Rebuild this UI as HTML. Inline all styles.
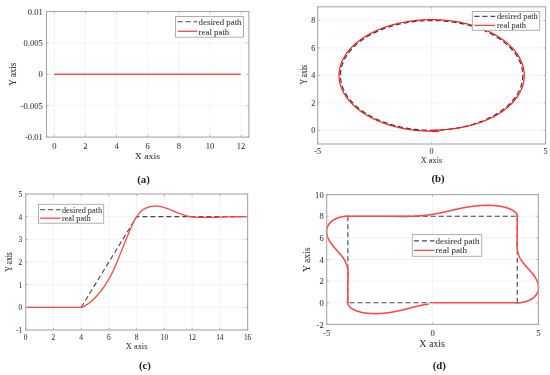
<!DOCTYPE html>
<html><head><meta charset="utf-8"><title>Path tracking results</title>
<style>html,body{margin:0;padding:0;background:#fff;}svg{display:block;}text{font-family:'Liberation Serif','Times New Roman',serif;}</style>
</head><body>
<svg width="550" height="375" viewBox="0 0 550 375">
<rect width="550" height="375" fill="#fff"/>
<line x1="54.28" y1="11.5" x2="54.28" y2="137.1" stroke="#f0f0f0" stroke-width="0.8"/>
<line x1="85.42" y1="11.5" x2="85.42" y2="137.1" stroke="#f0f0f0" stroke-width="0.8"/>
<line x1="116.56" y1="11.5" x2="116.56" y2="137.1" stroke="#f0f0f0" stroke-width="0.8"/>
<line x1="147.70" y1="11.5" x2="147.70" y2="137.1" stroke="#f0f0f0" stroke-width="0.8"/>
<line x1="178.84" y1="11.5" x2="178.84" y2="137.1" stroke="#f0f0f0" stroke-width="0.8"/>
<line x1="209.98" y1="11.5" x2="209.98" y2="137.1" stroke="#f0f0f0" stroke-width="0.8"/>
<line x1="241.12" y1="11.5" x2="241.12" y2="137.1" stroke="#f0f0f0" stroke-width="0.8"/>
<line x1="46.5" y1="105.70" x2="248.9" y2="105.70" stroke="#f0f0f0" stroke-width="0.8"/>
<line x1="46.5" y1="74.30" x2="248.9" y2="74.30" stroke="#f0f0f0" stroke-width="0.8"/>
<line x1="46.5" y1="42.90" x2="248.9" y2="42.90" stroke="#f0f0f0" stroke-width="0.8"/>
<path d="M54.28,74.30 L239.56,74.30" fill="none" stroke="#ff5058" stroke-width="1.5"/>
<path d="M239.56,74.30 L240.65,74.30" fill="none" stroke="#474747" stroke-width="1.0"/>
<rect x="46.5" y="11.5" width="202.40" height="125.60" fill="none" stroke="#a8a8a8" stroke-width="1.1"/>
<path d="M54.28,137.1 v-2.0 M54.28,11.5 v2.0" stroke="#a8a8a8" stroke-width="0.8"/>
<path d="M85.42,137.1 v-2.0 M85.42,11.5 v2.0" stroke="#a8a8a8" stroke-width="0.8"/>
<path d="M116.56,137.1 v-2.0 M116.56,11.5 v2.0" stroke="#a8a8a8" stroke-width="0.8"/>
<path d="M147.70,137.1 v-2.0 M147.70,11.5 v2.0" stroke="#a8a8a8" stroke-width="0.8"/>
<path d="M178.84,137.1 v-2.0 M178.84,11.5 v2.0" stroke="#a8a8a8" stroke-width="0.8"/>
<path d="M209.98,137.1 v-2.0 M209.98,11.5 v2.0" stroke="#a8a8a8" stroke-width="0.8"/>
<path d="M241.12,137.1 v-2.0 M241.12,11.5 v2.0" stroke="#a8a8a8" stroke-width="0.8"/>
<path d="M46.5,137.10 h2.0 M248.9,137.10 h-2.0" stroke="#a8a8a8" stroke-width="0.8"/>
<path d="M46.5,105.70 h2.0 M248.9,105.70 h-2.0" stroke="#a8a8a8" stroke-width="0.8"/>
<path d="M46.5,74.30 h2.0 M248.9,74.30 h-2.0" stroke="#a8a8a8" stroke-width="0.8"/>
<path d="M46.5,42.90 h2.0 M248.9,42.90 h-2.0" stroke="#a8a8a8" stroke-width="0.8"/>
<path d="M46.5,11.50 h2.0 M248.9,11.50 h-2.0" stroke="#a8a8a8" stroke-width="0.8"/>
<text transform="translate(54.28,148.6) scale(1.03,1)" font-size="8.3" text-anchor="middle" fill="#383838" stroke="#383838" stroke-width="0.06">0</text>
<text transform="translate(85.42,148.6) scale(1.03,1)" font-size="8.3" text-anchor="middle" fill="#383838" stroke="#383838" stroke-width="0.06">2</text>
<text transform="translate(116.56,148.6) scale(1.03,1)" font-size="8.3" text-anchor="middle" fill="#383838" stroke="#383838" stroke-width="0.06">4</text>
<text transform="translate(147.7,148.6) scale(1.03,1)" font-size="8.3" text-anchor="middle" fill="#383838" stroke="#383838" stroke-width="0.06">6</text>
<text transform="translate(178.84,148.6) scale(1.03,1)" font-size="8.3" text-anchor="middle" fill="#383838" stroke="#383838" stroke-width="0.06">8</text>
<text transform="translate(209.98,148.6) scale(1.03,1)" font-size="8.3" text-anchor="middle" fill="#383838" stroke="#383838" stroke-width="0.06">10</text>
<text transform="translate(241.12,148.6) scale(1.03,1)" font-size="8.3" text-anchor="middle" fill="#383838" stroke="#383838" stroke-width="0.06">12</text>
<text transform="translate(42.8,140.26) scale(1.03,1)" font-size="8.3" text-anchor="end" fill="#383838" stroke="#383838" stroke-width="0.06">-0.01</text>
<text transform="translate(42.8,108.86) scale(1.03,1)" font-size="8.3" text-anchor="end" fill="#383838" stroke="#383838" stroke-width="0.06">-0.005</text>
<text transform="translate(42.8,77.46) scale(1.03,1)" font-size="8.3" text-anchor="end" fill="#383838" stroke="#383838" stroke-width="0.06">0</text>
<text transform="translate(42.8,46.06) scale(1.03,1)" font-size="8.3" text-anchor="end" fill="#383838" stroke="#383838" stroke-width="0.06">0.005</text>
<text transform="translate(42.8,14.66) scale(1.03,1)" font-size="8.3" text-anchor="end" fill="#383838" stroke="#383838" stroke-width="0.06">0.01</text>
<text transform="translate(147.4,158.7) scale(1.07,1)" font-size="9.1" text-anchor="middle" fill="#383838" stroke="#383838" stroke-width="0.06">X axis</text>
<text transform="translate(16,74.3) rotate(-90) scale(1,1.22)" font-size="9.1" text-anchor="middle" fill="#383838" stroke="#383838" stroke-width="0.06">Y axis</text>
<rect x="175.5" y="16.5" width="68.00" height="20.70" fill="#fff" stroke="#a8a8a8" stroke-width="0.9"/>
<path d="M177.70,21.80 L197.30,21.80" fill="none" stroke="#474747" stroke-width="1.1" stroke-dasharray="5 3"/>
<path d="M177.70,31.30 L197.30,31.30" fill="none" stroke="#ff4646" stroke-width="1.3"/>
<text transform="translate(198.6,24.8) scale(1.12,1)" font-size="7.9" text-anchor="start" fill="#383838" stroke="#383838" stroke-width="0.06">desired path</text>
<text transform="translate(198.6,34.5) scale(1.12,1)" font-size="7.9" text-anchor="start" fill="#383838" stroke="#383838" stroke-width="0.06">real path</text>
<text transform="translate(143.5,183.2) scale(1,1)" font-size="10.8" text-anchor="middle" font-weight="bold" fill="#222" stroke="#222" stroke-width="0">(a)</text>
<line x1="431.65" y1="6.8" x2="431.65" y2="144.0" stroke="#f0f0f0" stroke-width="0.8"/>
<line x1="317.7" y1="130.28" x2="545.6" y2="130.28" stroke="#f0f0f0" stroke-width="0.8"/>
<line x1="317.7" y1="102.84" x2="545.6" y2="102.84" stroke="#f0f0f0" stroke-width="0.8"/>
<line x1="317.7" y1="75.40" x2="545.6" y2="75.40" stroke="#f0f0f0" stroke-width="0.8"/>
<line x1="317.7" y1="47.96" x2="545.6" y2="47.96" stroke="#f0f0f0" stroke-width="0.8"/>
<line x1="317.7" y1="20.52" x2="545.6" y2="20.52" stroke="#f0f0f0" stroke-width="0.8"/>
<path d="M431.65,130.28 L433.09,130.27 L434.52,130.25 L435.95,130.22 L437.39,130.17 L438.82,130.11 L440.25,130.04 L441.68,129.95 L443.10,129.85 L444.53,129.73 L445.95,129.60 L447.36,129.46 L448.77,129.30 L450.18,129.13 L451.58,128.95 L452.98,128.76 L454.38,128.55 L455.76,128.33 L457.14,128.09 L458.52,127.84 L459.89,127.58 L461.25,127.31 L462.60,127.02 L463.95,126.72 L465.29,126.41 L466.62,126.08 L467.94,125.74 L469.25,125.39 L470.55,125.03 L471.85,124.66 L473.13,124.27 L474.40,123.87 L475.67,123.46 L476.92,123.04 L478.16,122.60 L479.39,122.15 L480.61,121.69 L481.81,121.23 L483.00,120.74 L484.18,120.25 L485.35,119.75 L486.50,119.23 L487.64,118.71 L488.77,118.17 L489.88,117.63 L490.98,117.07 L492.06,116.50 L493.13,115.92 L494.18,115.33 L495.22,114.74 L496.24,114.13 L497.24,113.51 L498.23,112.89 L499.20,112.25 L500.16,111.61 L501.10,110.95 L502.02,110.29 L502.92,109.62 L503.81,108.94 L504.68,108.25 L505.53,107.55 L506.36,106.85 L507.17,106.14 L507.97,105.42 L508.74,104.69 L509.50,103.95 L510.24,103.21 L510.95,102.46 L511.65,101.71 L512.33,100.95 L512.99,100.18 L513.63,99.41 L514.24,98.63 L514.84,97.84 L515.42,97.05 L515.97,96.25 L516.51,95.45 L517.02,94.64 L517.52,93.83 L517.99,93.02 L518.44,92.19 L518.87,91.37 L519.27,90.54 L519.66,89.71 L520.02,88.87 L520.36,88.03 L520.68,87.19 L520.98,86.34 L521.25,85.50 L521.51,84.65 L521.74,83.79 L521.95,82.94 L522.13,82.08 L522.30,81.22 L522.44,80.36 L522.56,79.50 L522.65,78.64 L522.72,77.78 L522.78,76.91 L522.80,76.05 L522.81,75.18 L522.79,74.32 L522.75,73.46 L522.69,72.59 L522.61,71.73 L522.50,70.87 L522.37,70.01 L522.22,69.15 L522.04,68.29 L521.84,67.43 L521.63,66.58 L521.38,65.73 L521.12,64.88 L520.83,64.03 L520.52,63.19 L520.19,62.35 L519.84,61.51 L519.47,60.67 L519.07,59.84 L518.65,59.02 L518.21,58.19 L517.75,57.38 L517.27,56.56 L516.77,55.75 L516.24,54.95 L515.70,54.15 L515.13,53.35 L514.54,52.57 L513.94,51.78 L513.31,51.01 L512.66,50.24 L511.99,49.47 L511.30,48.71 L510.60,47.96 L509.87,47.22 L509.12,46.48 L508.36,45.75 L507.57,45.02 L506.77,44.31 L505.94,43.60 L505.10,42.90 L504.24,42.21 L503.37,41.52 L502.47,40.85 L501.56,40.18 L500.63,39.52 L499.68,38.87 L498.72,38.23 L497.74,37.60 L496.74,36.98 L495.73,36.37 L494.70,35.76 L493.65,35.17 L492.59,34.59 L491.52,34.01 L490.43,33.45 L489.33,32.90 L488.21,32.36 L487.07,31.83 L485.93,31.31 L484.77,30.80 L483.59,30.30 L482.41,29.81 L481.21,29.34 L480.00,28.87 L478.78,28.42 L477.54,27.98 L476.29,27.55 L475.04,27.13 L473.77,26.73 L472.49,26.34 L471.20,25.95 L469.90,25.59 L468.60,25.23 L467.28,24.89 L465.95,24.55 L464.62,24.24 L463.28,23.93 L461.93,23.64 L460.57,23.35 L459.20,23.09 L457.83,22.83 L456.45,22.59 L455.07,22.36 L453.68,22.15 L452.28,21.94 L450.88,21.76 L449.48,21.58 L448.07,21.42 L446.65,21.27 L445.24,21.13 L443.82,21.01 L442.39,20.90 L440.96,20.81 L439.54,20.73 L438.10,20.66 L436.67,20.60 L435.24,20.56 L433.80,20.54 L432.37,20.52 L430.93,20.52 L429.50,20.54 L428.06,20.56 L426.63,20.60 L425.20,20.66 L423.76,20.73 L422.34,20.81 L420.91,20.90 L419.48,21.01 L418.06,21.13 L416.65,21.27 L415.23,21.42 L413.82,21.58 L412.42,21.76 L411.02,21.94 L409.62,22.15 L408.23,22.36 L406.85,22.59 L405.47,22.83 L404.10,23.09 L402.73,23.35 L401.37,23.64 L400.02,23.93 L398.68,24.24 L397.35,24.55 L396.02,24.89 L394.70,25.23 L393.40,25.59 L392.10,25.95 L390.81,26.34 L389.53,26.73 L388.26,27.13 L387.01,27.55 L385.76,27.98 L384.52,28.42 L383.30,28.87 L382.09,29.34 L380.89,29.81 L379.71,30.30 L378.53,30.80 L377.37,31.31 L376.23,31.83 L375.09,32.36 L373.97,32.90 L372.87,33.45 L371.78,34.01 L370.71,34.59 L369.65,35.17 L368.60,35.76 L367.57,36.37 L366.56,36.98 L365.56,37.60 L364.58,38.23 L363.62,38.87 L362.67,39.52 L361.74,40.18 L360.83,40.85 L359.93,41.52 L359.06,42.21 L358.20,42.90 L357.36,43.60 L356.53,44.31 L355.73,45.02 L354.94,45.75 L354.18,46.48 L353.43,47.22 L352.70,47.96 L352.00,48.71 L351.31,49.47 L350.64,50.24 L349.99,51.01 L349.36,51.78 L348.76,52.57 L348.17,53.35 L347.60,54.15 L347.06,54.95 L346.53,55.75 L346.03,56.56 L345.55,57.38 L345.09,58.19 L344.65,59.02 L344.23,59.84 L343.83,60.67 L343.46,61.51 L343.11,62.35 L342.78,63.19 L342.47,64.03 L342.18,64.88 L341.92,65.73 L341.67,66.58 L341.46,67.43 L341.26,68.29 L341.08,69.15 L340.93,70.01 L340.80,70.87 L340.69,71.73 L340.61,72.59 L340.55,73.46 L340.51,74.32 L340.49,75.18 L340.50,76.05 L340.52,76.91 L340.58,77.78 L340.65,78.64 L340.74,79.50 L340.86,80.36 L341.00,81.22 L341.17,82.08 L341.35,82.94 L341.56,83.79 L341.79,84.65 L342.05,85.50 L342.32,86.34 L342.62,87.19 L342.94,88.03 L343.28,88.87 L343.64,89.71 L344.03,90.54 L344.43,91.37 L344.86,92.19 L345.31,93.02 L345.78,93.83 L346.28,94.64 L346.79,95.45 L347.33,96.25 L347.88,97.05 L348.46,97.84 L349.06,98.63 L349.67,99.41 L350.31,100.18 L350.97,100.95 L351.65,101.71 L352.35,102.46 L353.06,103.21 L353.80,103.95 L354.56,104.69 L355.33,105.42 L356.13,106.14 L356.94,106.85 L357.77,107.55 L358.62,108.25 L359.49,108.94 L360.38,109.62 L361.28,110.29 L362.20,110.95 L363.14,111.61 L364.10,112.25 L365.07,112.89 L366.06,113.51 L367.06,114.13 L368.08,114.74 L369.12,115.33 L370.17,115.92 L371.24,116.50 L372.32,117.07 L373.42,117.63 L374.53,118.17 L375.66,118.71 L376.80,119.23 L377.95,119.75 L379.12,120.25 L380.30,120.74 L381.49,121.23 L382.69,121.69 L383.91,122.15 L385.14,122.60 L386.38,123.04 L387.63,123.46 L388.90,123.87 L390.17,124.27 L391.45,124.66 L392.75,125.03 L394.05,125.39 L395.36,125.74 L396.68,126.08 L398.01,126.41 L399.35,126.72 L400.70,127.02 L402.05,127.31 L403.41,127.58 L404.78,127.84 L406.16,128.09 L407.54,128.33 L408.92,128.55 L410.32,128.76 L411.72,128.95 L413.12,129.13 L414.53,129.30 L415.94,129.46 L417.35,129.60 L418.77,129.73 L420.20,129.85 L421.62,129.95 L423.05,130.04 L424.48,130.11 L425.91,130.17 L427.35,130.22 L428.78,130.25 L430.21,130.27 L431.65,130.28" fill="none" stroke="#3a3a3a" stroke-width="1.25" stroke-dasharray="5 3"/>
<path d="M431.65,130.28 L433.03,130.27 L434.42,130.25 L435.80,130.22 L437.18,130.18 L438.57,130.12 L439.94,130.05 L441.32,129.97 L442.70,129.88 L444.07,129.77 L445.44,129.65 L446.81,129.52 L448.17,129.38 L449.53,129.23 L450.89,129.06 L452.25,128.89 L453.60,128.71 L454.95,128.52 L456.29,128.31 L457.63,128.10 L458.97,127.87 L460.30,127.63 L461.63,127.39 L462.95,127.13 L464.26,126.86 L465.57,126.58 L466.87,126.29 L468.17,125.98 L469.46,125.67 L470.74,125.34 L472.02,125.00 L473.29,124.65 L474.55,124.29 L475.80,123.92 L477.04,123.53 L478.27,123.14 L479.50,122.73 L480.71,122.31 L481.91,121.88 L483.10,121.44 L484.28,120.98 L485.45,120.52 L486.61,120.04 L487.75,119.55 L488.88,119.05 L490.00,118.54 L491.10,118.02 L492.19,117.48 L493.27,116.94 L494.32,116.38 L495.37,115.81 L496.39,115.23 L497.40,114.64 L498.39,114.04 L499.37,113.43 L500.32,112.81 L501.26,112.18 L502.18,111.54 L503.08,110.89 L503.97,110.23 L504.84,109.57 L505.69,108.90 L506.53,108.21 L507.35,107.53 L508.15,106.83 L508.94,106.13 L509.70,105.42 L510.45,104.70 L511.18,103.98 L511.89,103.25 L512.58,102.51 L513.26,101.77 L513.91,101.02 L514.55,100.26 L515.17,99.50 L515.77,98.74 L516.35,97.96 L516.91,97.19 L517.45,96.40 L517.97,95.62 L518.47,94.83 L518.95,94.03 L519.41,93.23 L519.85,92.43 L520.26,91.62 L520.66,90.81 L521.04,89.99 L521.40,89.17 L521.74,88.35 L522.05,87.52 L522.35,86.70 L522.62,85.87 L522.88,85.03 L523.11,84.20 L523.32,83.36 L523.51,82.52 L523.68,81.68 L523.83,80.84 L523.95,80.00 L524.06,79.15 L524.14,78.31 L524.21,77.46 L524.25,76.61 L524.27,75.77 L524.27,74.92 L524.24,74.07 L524.20,73.23 L524.13,72.38 L524.05,71.54 L523.94,70.69 L523.81,69.85 L523.66,69.01 L523.49,68.17 L523.29,67.33 L523.08,66.49 L522.84,65.66 L522.59,64.82 L522.31,63.99 L522.01,63.17 L521.69,62.34 L521.35,61.52 L520.99,60.70 L520.61,59.89 L520.21,59.07 L519.79,58.27 L519.34,57.46 L518.88,56.66 L518.40,55.87 L517.90,55.08 L517.37,54.29 L516.83,53.51 L516.27,52.73 L515.69,51.96 L515.09,51.20 L514.47,50.44 L513.83,49.68 L513.17,48.93 L512.49,48.19 L511.80,47.46 L511.08,46.73 L510.35,46.00 L509.60,45.29 L508.83,44.58 L508.04,43.88 L507.24,43.18 L506.42,42.49 L505.58,41.81 L504.73,41.14 L503.85,40.48 L502.96,39.82 L502.06,39.17 L501.14,38.53 L500.20,37.90 L499.24,37.28 L498.27,36.67 L497.29,36.06 L496.29,35.47 L495.28,34.88 L494.25,34.30 L493.20,33.74 L492.14,33.18 L491.07,32.63 L489.99,32.09 L488.89,31.56 L487.77,31.05 L486.65,30.54 L485.51,30.04 L484.36,29.55 L483.20,29.08 L482.02,28.61 L480.84,28.15 L479.64,27.71 L478.43,27.28 L477.21,26.86 L475.98,26.44 L474.74,26.04 L473.49,25.66 L472.23,25.28 L470.96,24.91 L469.69,24.56 L468.40,24.22 L467.10,23.89 L465.80,23.57 L464.49,23.26 L463.17,22.97 L461.84,22.69 L460.51,22.42 L459.17,22.16 L457.82,21.91 L456.47,21.68 L455.11,21.46 L453.75,21.25 L452.38,21.06 L451.01,20.87 L449.63,20.70 L448.25,20.54 L446.86,20.40 L445.48,20.27 L444.08,20.15 L442.69,20.04 L441.29,19.94 L439.89,19.86 L438.49,19.79 L437.08,19.74 L435.68,19.69 L434.27,19.66 L432.87,19.65 L431.46,19.64 L430.06,19.65 L428.65,19.67 L427.24,19.71 L425.84,19.75 L424.44,19.81 L423.03,19.88 L421.64,19.97 L420.24,20.07 L418.84,20.18 L417.45,20.30 L416.06,20.44 L414.68,20.59 L413.30,20.75 L411.92,20.92 L410.55,21.11 L409.18,21.31 L407.82,21.52 L406.46,21.74 L405.11,21.98 L403.77,22.23 L402.43,22.49 L401.10,22.76 L399.78,23.05 L398.46,23.35 L397.15,23.65 L395.85,23.98 L394.56,24.31 L393.27,24.65 L392.00,25.01 L390.73,25.38 L389.47,25.76 L388.22,26.15 L386.99,26.55 L385.76,26.97 L384.54,27.39 L383.34,27.83 L382.14,28.28 L380.96,28.73 L379.79,29.20 L378.63,29.68 L377.48,30.17 L376.35,30.67 L375.23,31.18 L374.12,31.70 L373.02,32.24 L371.94,32.78 L370.87,33.33 L369.82,33.89 L368.78,34.46 L367.75,35.04 L366.74,35.63 L365.74,36.22 L364.76,36.83 L363.80,37.45 L362.85,38.07 L361.92,38.70 L361.00,39.35 L360.10,40.00 L359.21,40.65 L358.34,41.32 L357.49,42.00 L356.66,42.68 L355.84,43.37 L355.04,44.06 L354.26,44.77 L353.50,45.48 L352.75,46.20 L352.02,46.92 L351.31,47.65 L350.62,48.39 L349.95,49.13 L349.30,49.88 L348.66,50.64 L348.05,51.40 L347.45,52.17 L346.88,52.94 L346.32,53.72 L345.78,54.50 L345.27,55.29 L344.77,56.08 L344.29,56.88 L343.83,57.68 L343.40,58.48 L342.98,59.29 L342.58,60.10 L342.21,60.92 L341.85,61.74 L341.52,62.56 L341.21,63.39 L340.91,64.22 L340.64,65.05 L340.39,65.88 L340.16,66.71 L339.95,67.55 L339.77,68.39 L339.60,69.23 L339.45,70.07 L339.33,70.92 L339.23,71.76 L339.15,72.61 L339.09,73.45 L339.05,74.30 L339.03,75.15 L339.04,75.99 L339.06,76.84 L339.11,77.69 L339.18,78.53 L339.27,79.38 L339.38,80.22 L339.51,81.06 L339.66,81.91 L339.84,82.75 L340.03,83.58 L340.25,84.42 L340.49,85.26 L340.75,86.09 L341.03,86.92 L341.33,87.75 L341.65,88.57 L341.99,89.39 L342.36,90.21 L342.74,91.02 L343.15,91.83 L343.57,92.64 L344.02,93.44 L344.48,94.24 L344.97,95.04 L345.47,95.83 L346.00,96.61 L346.54,97.40 L347.11,98.17 L347.69,98.94 L348.29,99.71 L348.92,100.47 L349.56,101.22 L350.22,101.97 L350.90,102.71 L351.60,103.44 L352.31,104.17 L353.05,104.89 L353.80,105.61 L354.57,106.32 L355.36,107.02 L356.17,107.71 L356.99,108.40 L357.83,109.08 L358.69,109.75 L359.57,110.41 L360.46,111.07 L361.36,111.71 L362.29,112.35 L363.23,112.98 L364.19,113.60 L365.16,114.21 L366.14,114.82 L367.15,115.41 L368.16,116.00 L369.19,116.57 L370.24,117.14 L371.30,117.70 L372.37,118.24 L373.46,118.78 L374.56,119.31 L375.68,119.82 L376.80,120.33 L377.94,120.83 L379.09,121.31 L380.26,121.79 L381.43,122.25 L382.62,122.71 L383.82,123.15 L385.03,123.58 L386.25,124.00 L387.48,124.41 L388.72,124.81 L389.98,125.19 L391.24,125.57 L392.51,125.93 L393.79,126.29 L395.07,126.63 L396.37,126.95 L397.67,127.27 L398.99,127.58 L400.31,127.87 L401.63,128.15 L402.97,128.42 L404.31,128.67 L405.66,128.92 L407.01,129.15 L408.37,129.37 L409.73,129.57 L411.10,129.77 L412.47,129.95 L413.85,130.12 L415.24,130.28 L416.62,130.42 L418.01,130.55 L419.40,130.67 L420.80,130.77 L422.20,130.87 L423.60,130.95 L425.00,131.01 L426.40,131.07 L427.81,131.11 L429.21,131.14 L430.62,131.15 L432.03,131.16 L433.43,131.15 L434.84,131.13 L436.24,131.09 L437.65,131.04 L439.05,130.98" fill="none" stroke="#f82020" stroke-width="1.2"/>
<path d="M431.65,131.10 L438.49,131.10" fill="none" stroke="#f82020" stroke-width="1.6"/>
<rect x="317.7" y="6.8" width="227.90" height="137.20" fill="none" stroke="#a8a8a8" stroke-width="1.1"/>
<path d="M317.70,144.0 v-2.0 M317.70,6.8 v2.0" stroke="#a8a8a8" stroke-width="0.8"/>
<path d="M431.65,144.0 v-2.0 M431.65,6.8 v2.0" stroke="#a8a8a8" stroke-width="0.8"/>
<path d="M545.60,144.0 v-2.0 M545.60,6.8 v2.0" stroke="#a8a8a8" stroke-width="0.8"/>
<path d="M317.7,130.28 h2.0 M545.6,130.28 h-2.0" stroke="#a8a8a8" stroke-width="0.8"/>
<path d="M317.7,102.84 h2.0 M545.6,102.84 h-2.0" stroke="#a8a8a8" stroke-width="0.8"/>
<path d="M317.7,75.40 h2.0 M545.6,75.40 h-2.0" stroke="#a8a8a8" stroke-width="0.8"/>
<path d="M317.7,47.96 h2.0 M545.6,47.96 h-2.0" stroke="#a8a8a8" stroke-width="0.8"/>
<path d="M317.7,20.52 h2.0 M545.6,20.52 h-2.0" stroke="#a8a8a8" stroke-width="0.8"/>
<text transform="translate(317.7,153.9) scale(1.08,1)" font-size="7.5" text-anchor="middle" fill="#383838" stroke="#383838" stroke-width="0.06">-5</text>
<text transform="translate(431.65,153.9) scale(1.08,1)" font-size="7.5" text-anchor="middle" fill="#383838" stroke="#383838" stroke-width="0.06">0</text>
<text transform="translate(545.6,153.9) scale(1.08,1)" font-size="7.5" text-anchor="middle" fill="#383838" stroke="#383838" stroke-width="0.06">5</text>
<text transform="translate(315.3,133.18) scale(1.08,1)" font-size="7.5" text-anchor="end" fill="#383838" stroke="#383838" stroke-width="0.06">0</text>
<text transform="translate(315.3,105.74) scale(1.08,1)" font-size="7.5" text-anchor="end" fill="#383838" stroke="#383838" stroke-width="0.06">2</text>
<text transform="translate(315.3,78.3) scale(1.08,1)" font-size="7.5" text-anchor="end" fill="#383838" stroke="#383838" stroke-width="0.06">4</text>
<text transform="translate(315.3,50.86) scale(1.08,1)" font-size="7.5" text-anchor="end" fill="#383838" stroke="#383838" stroke-width="0.06">6</text>
<text transform="translate(315.3,23.42) scale(1.08,1)" font-size="7.5" text-anchor="end" fill="#383838" stroke="#383838" stroke-width="0.06">8</text>
<text transform="translate(431.5,162.8) scale(1.07,1)" font-size="7.7" text-anchor="middle" fill="#383838" stroke="#383838" stroke-width="0.06">X axis</text>
<text transform="translate(306.5,74.8) rotate(-90) scale(1,1.22)" font-size="7.7" text-anchor="middle" fill="#383838" stroke="#383838" stroke-width="0.06">Y axis</text>
<rect x="472.3" y="11.5" width="67.40" height="18.80" fill="#fff" stroke="#a8a8a8" stroke-width="0.9"/>
<path d="M474.40,16.40 L495.20,16.40" fill="none" stroke="#474747" stroke-width="1.1" stroke-dasharray="5 3"/>
<path d="M474.40,25.40 L495.20,25.40" fill="none" stroke="#ff4646" stroke-width="1.3"/>
<text transform="translate(496.9,19.4) scale(1.12,1)" font-size="7.5" text-anchor="start" fill="#383838" stroke="#383838" stroke-width="0.06">desired path</text>
<text transform="translate(496.9,27.8) scale(1.12,1)" font-size="7.5" text-anchor="start" fill="#383838" stroke="#383838" stroke-width="0.06">real path</text>
<text transform="translate(438.1,182.4) scale(1,1)" font-size="10.8" text-anchor="middle" font-weight="bold" fill="#222" stroke="#222" stroke-width="0">(b)</text>
<line x1="53.44" y1="194.0" x2="53.44" y2="330.0" stroke="#f0f0f0" stroke-width="0.8"/>
<line x1="81.17" y1="194.0" x2="81.17" y2="330.0" stroke="#f0f0f0" stroke-width="0.8"/>
<line x1="108.91" y1="194.0" x2="108.91" y2="330.0" stroke="#f0f0f0" stroke-width="0.8"/>
<line x1="136.65" y1="194.0" x2="136.65" y2="330.0" stroke="#f0f0f0" stroke-width="0.8"/>
<line x1="164.39" y1="194.0" x2="164.39" y2="330.0" stroke="#f0f0f0" stroke-width="0.8"/>
<line x1="192.12" y1="194.0" x2="192.12" y2="330.0" stroke="#f0f0f0" stroke-width="0.8"/>
<line x1="219.86" y1="194.0" x2="219.86" y2="330.0" stroke="#f0f0f0" stroke-width="0.8"/>
<line x1="25.7" y1="307.33" x2="247.6" y2="307.33" stroke="#f0f0f0" stroke-width="0.8"/>
<line x1="25.7" y1="284.67" x2="247.6" y2="284.67" stroke="#f0f0f0" stroke-width="0.8"/>
<line x1="25.7" y1="262.00" x2="247.6" y2="262.00" stroke="#f0f0f0" stroke-width="0.8"/>
<line x1="25.7" y1="239.33" x2="247.6" y2="239.33" stroke="#f0f0f0" stroke-width="0.8"/>
<line x1="25.7" y1="216.67" x2="247.6" y2="216.67" stroke="#f0f0f0" stroke-width="0.8"/>
<path d="M81.17,307.33 L136.65,216.67 L247.60,216.67" fill="none" stroke="#474747" stroke-width="1.1" stroke-dasharray="5 3"/>
<path d="M25.70,307.33 L26.26,307.33 L26.81,307.33 L27.37,307.33 L27.92,307.33 L28.48,307.33 L29.04,307.33 L29.59,307.33 L30.15,307.33 L30.71,307.33 L31.26,307.33 L31.82,307.33 L32.37,307.33 L32.93,307.33 L33.49,307.33 L34.04,307.33 L34.60,307.33 L35.15,307.33 L35.71,307.33 L36.27,307.33 L36.82,307.33 L37.38,307.33 L37.94,307.33 L38.49,307.33 L39.05,307.33 L39.60,307.33 L40.16,307.33 L40.72,307.33 L41.27,307.33 L41.83,307.33 L42.38,307.33 L42.94,307.33 L43.50,307.33 L44.05,307.33 L44.61,307.33 L45.16,307.33 L45.72,307.33 L46.28,307.33 L46.83,307.33 L47.39,307.33 L47.95,307.33 L48.50,307.33 L49.06,307.33 L49.61,307.33 L50.17,307.33 L50.73,307.33 L51.28,307.33 L51.84,307.33 L52.39,307.33 L52.95,307.33 L53.51,307.33 L54.06,307.33 L54.62,307.33 L55.18,307.33 L55.73,307.33 L56.29,307.33 L56.84,307.33 L57.40,307.33 L57.96,307.33 L58.51,307.33 L59.07,307.33 L59.62,307.33 L60.18,307.33 L60.74,307.33 L61.29,307.33 L61.85,307.33 L62.41,307.33 L62.96,307.33 L63.52,307.33 L64.07,307.33 L64.63,307.33 L65.19,307.33 L65.74,307.33 L66.30,307.33 L66.85,307.33 L67.41,307.33 L67.97,307.33 L68.52,307.33 L69.08,307.33 L69.64,307.33 L70.19,307.33 L70.75,307.33 L71.30,307.33 L71.86,307.33 L72.42,307.33 L72.97,307.33 L73.53,307.33 L74.08,307.33 L74.64,307.33 L75.20,307.33 L75.75,307.33 L76.31,307.33 L76.86,307.33 L77.42,307.33 L77.98,307.33 L78.53,307.33 L79.09,307.33 L79.65,307.33 L80.20,307.33 L80.76,307.33 L81.31,307.33 L81.87,307.27 L82.43,307.14 L82.98,306.95 L83.54,306.70 L84.09,306.41 L84.65,306.08 L85.21,305.72 L85.76,305.35 L86.32,304.95 L86.88,304.56 L87.43,304.17 L87.99,303.79 L88.54,303.42 L89.10,303.02 L89.66,302.61 L90.21,302.18 L90.77,301.73 L91.32,301.27 L91.88,300.78 L92.44,300.28 L92.99,299.77 L93.55,299.24 L94.11,298.70 L94.66,298.14 L95.22,297.58 L95.77,297.00 L96.33,296.41 L96.89,295.81 L97.44,295.20 L98.00,294.58 L98.55,293.94 L99.11,293.29 L99.67,292.61 L100.22,291.92 L100.78,291.21 L101.34,290.49 L101.89,289.75 L102.45,288.99 L103.00,288.21 L103.56,287.42 L104.12,286.61 L104.67,285.78 L105.23,284.94 L105.78,284.09 L106.34,283.22 L106.90,282.33 L107.45,281.43 L108.01,280.52 L108.56,279.59 L109.12,278.64 L109.68,277.66 L110.23,276.63 L110.79,275.57 L111.35,274.47 L111.90,273.35 L112.46,272.19 L113.01,271.01 L113.57,269.82 L114.13,268.60 L114.68,267.38 L115.24,266.14 L115.79,264.89 L116.35,263.61 L116.91,262.29 L117.46,260.95 L118.02,259.57 L118.58,258.18 L119.13,256.77 L119.69,255.36 L120.24,253.94 L120.80,252.53 L121.36,251.13 L121.91,249.74 L122.47,248.37 L123.02,247.01 L123.58,245.64 L124.14,244.27 L124.69,242.89 L125.25,241.52 L125.81,240.14 L126.36,238.77 L126.92,237.41 L127.47,236.06 L128.03,234.72 L128.59,233.39 L129.14,232.08 L129.70,230.78 L130.25,229.51 L130.81,228.26 L131.37,227.01 L131.92,225.74 L132.48,224.47 L133.04,223.23 L133.59,222.03 L134.15,220.90 L134.70,219.87 L135.26,218.94 L135.82,218.08 L136.37,217.24 L136.93,216.43 L137.48,215.64 L138.04,214.87 L138.60,214.14 L139.15,213.44 L139.71,212.78 L140.26,212.16 L140.82,211.58 L141.38,211.05 L141.93,210.57 L142.49,210.14 L143.05,209.77 L143.60,209.42 L144.16,209.08 L144.71,208.76 L145.27,208.45 L145.83,208.16 L146.38,207.89 L146.94,207.64 L147.49,207.41 L148.05,207.20 L148.61,207.02 L149.16,206.87 L149.72,206.74 L150.28,206.64 L150.83,206.54 L151.39,206.44 L151.94,206.35 L152.50,206.27 L153.06,206.20 L153.61,206.13 L154.17,206.08 L154.72,206.04 L155.28,206.02 L155.84,206.01 L156.39,206.03 L156.95,206.06 L157.51,206.11 L158.06,206.18 L158.62,206.26 L159.17,206.36 L159.73,206.47 L160.29,206.58 L160.84,206.71 L161.40,206.84 L161.95,206.98 L162.51,207.12 L163.07,207.27 L163.62,207.41 L164.18,207.55 L164.74,207.69 L165.29,207.84 L165.85,208.01 L166.40,208.20 L166.96,208.39 L167.52,208.60 L168.07,208.82 L168.63,209.04 L169.18,209.27 L169.74,209.50 L170.30,209.74 L170.85,209.98 L171.41,210.22 L171.96,210.46 L172.52,210.70 L173.08,210.94 L173.63,211.17 L174.19,211.39 L174.75,211.61 L175.30,211.82 L175.86,212.03 L176.41,212.25 L176.97,212.47 L177.53,212.68 L178.08,212.90 L178.64,213.11 L179.19,213.33 L179.75,213.54 L180.31,213.74 L180.86,213.95 L181.42,214.15 L181.98,214.34 L182.53,214.53 L183.09,214.71 L183.64,214.89 L184.20,215.07 L184.76,215.25 L185.31,215.43 L185.87,215.61 L186.42,215.79 L186.98,215.95 L187.54,216.11 L188.09,216.26 L188.65,216.40 L189.21,216.51 L189.76,216.61 L190.32,216.68 L190.87,216.75 L191.43,216.82 L191.99,216.88 L192.54,216.94 L193.10,217.00 L193.65,217.06 L194.21,217.11 L194.77,217.16 L195.32,217.20 L195.88,217.24 L196.44,217.27 L196.99,217.30 L197.55,217.32 L198.10,217.34 L198.66,217.34 L199.22,217.35 L199.77,217.35 L200.33,217.35 L200.88,217.35 L201.44,217.35 L202.00,217.35 L202.55,217.35 L203.11,217.35 L203.66,217.35 L204.22,217.35 L204.78,217.35 L205.33,217.35 L205.89,217.35 L206.45,217.35 L207.00,217.35 L207.56,217.35 L208.11,217.35 L208.67,217.35 L209.23,217.35 L209.78,217.35 L210.34,217.35 L210.89,217.35 L211.45,217.35 L212.01,217.35 L212.56,217.35 L213.12,217.35 L213.68,217.34 L214.23,217.34 L214.79,217.33 L215.34,217.32 L215.90,217.30 L216.46,217.28 L217.01,217.27 L217.57,217.25 L218.12,217.22 L218.68,217.20 L219.24,217.18 L219.79,217.15 L220.35,217.13 L220.91,217.10 L221.46,217.08 L222.02,217.05 L222.57,217.03 L223.13,217.01 L223.69,216.98 L224.24,216.96 L224.80,216.94 L225.35,216.93 L225.91,216.91 L226.47,216.90 L227.02,216.89 L227.58,216.88 L228.14,216.87 L228.69,216.86 L229.25,216.85 L229.80,216.84 L230.36,216.83 L230.92,216.83 L231.47,216.82 L232.03,216.81 L232.58,216.80 L233.14,216.79 L233.70,216.78 L234.25,216.77 L234.81,216.77 L235.36,216.76 L235.92,216.75 L236.48,216.74 L237.03,216.74 L237.59,216.73 L238.15,216.72 L238.70,216.72 L239.26,216.71 L239.81,216.71 L240.37,216.70 L240.93,216.70 L241.48,216.69 L242.04,216.69 L242.59,216.68 L243.15,216.68 L243.71,216.68 L244.26,216.67 L244.82,216.67 L245.38,216.67 L245.93,216.67 L246.49,216.67 L247.04,216.67 L247.60,216.67" fill="none" stroke="#ff4646" stroke-width="1.3"/>
<rect x="25.7" y="194.0" width="221.90" height="136.00" fill="none" stroke="#a8a8a8" stroke-width="1.1"/>
<path d="M25.70,330.0 v-2.0 M25.70,194.0 v2.0" stroke="#a8a8a8" stroke-width="0.8"/>
<path d="M53.44,330.0 v-2.0 M53.44,194.0 v2.0" stroke="#a8a8a8" stroke-width="0.8"/>
<path d="M81.17,330.0 v-2.0 M81.17,194.0 v2.0" stroke="#a8a8a8" stroke-width="0.8"/>
<path d="M108.91,330.0 v-2.0 M108.91,194.0 v2.0" stroke="#a8a8a8" stroke-width="0.8"/>
<path d="M136.65,330.0 v-2.0 M136.65,194.0 v2.0" stroke="#a8a8a8" stroke-width="0.8"/>
<path d="M164.39,330.0 v-2.0 M164.39,194.0 v2.0" stroke="#a8a8a8" stroke-width="0.8"/>
<path d="M192.12,330.0 v-2.0 M192.12,194.0 v2.0" stroke="#a8a8a8" stroke-width="0.8"/>
<path d="M219.86,330.0 v-2.0 M219.86,194.0 v2.0" stroke="#a8a8a8" stroke-width="0.8"/>
<path d="M247.60,330.0 v-2.0 M247.60,194.0 v2.0" stroke="#a8a8a8" stroke-width="0.8"/>
<path d="M25.7,330.00 h2.0 M247.6,330.00 h-2.0" stroke="#a8a8a8" stroke-width="0.8"/>
<path d="M25.7,307.33 h2.0 M247.6,307.33 h-2.0" stroke="#a8a8a8" stroke-width="0.8"/>
<path d="M25.7,284.67 h2.0 M247.6,284.67 h-2.0" stroke="#a8a8a8" stroke-width="0.8"/>
<path d="M25.7,262.00 h2.0 M247.6,262.00 h-2.0" stroke="#a8a8a8" stroke-width="0.8"/>
<path d="M25.7,239.33 h2.0 M247.6,239.33 h-2.0" stroke="#a8a8a8" stroke-width="0.8"/>
<path d="M25.7,216.67 h2.0 M247.6,216.67 h-2.0" stroke="#a8a8a8" stroke-width="0.8"/>
<path d="M25.7,194.00 h2.0 M247.6,194.00 h-2.0" stroke="#a8a8a8" stroke-width="0.8"/>
<text transform="translate(25.7,339.6) scale(1.0,1)" font-size="7.4" text-anchor="middle" fill="#383838" stroke="#383838" stroke-width="0.06">0</text>
<text transform="translate(53.44,339.6) scale(1.0,1)" font-size="7.4" text-anchor="middle" fill="#383838" stroke="#383838" stroke-width="0.06">2</text>
<text transform="translate(81.17,339.6) scale(1.0,1)" font-size="7.4" text-anchor="middle" fill="#383838" stroke="#383838" stroke-width="0.06">4</text>
<text transform="translate(108.91,339.6) scale(1.0,1)" font-size="7.4" text-anchor="middle" fill="#383838" stroke="#383838" stroke-width="0.06">6</text>
<text transform="translate(136.65,339.6) scale(1.0,1)" font-size="7.4" text-anchor="middle" fill="#383838" stroke="#383838" stroke-width="0.06">8</text>
<text transform="translate(164.39,339.6) scale(1.0,1)" font-size="7.4" text-anchor="middle" fill="#383838" stroke="#383838" stroke-width="0.06">10</text>
<text transform="translate(192.12,339.6) scale(1.0,1)" font-size="7.4" text-anchor="middle" fill="#383838" stroke="#383838" stroke-width="0.06">12</text>
<text transform="translate(219.86,339.6) scale(1.0,1)" font-size="7.4" text-anchor="middle" fill="#383838" stroke="#383838" stroke-width="0.06">14</text>
<text transform="translate(247.6,339.6) scale(1.0,1)" font-size="7.4" text-anchor="middle" fill="#383838" stroke="#383838" stroke-width="0.06">16</text>
<text transform="translate(22.2,332.86) scale(1.0,1)" font-size="7.4" text-anchor="end" fill="#383838" stroke="#383838" stroke-width="0.06">-1</text>
<text transform="translate(22.2,310.2) scale(1.0,1)" font-size="7.4" text-anchor="end" fill="#383838" stroke="#383838" stroke-width="0.06">0</text>
<text transform="translate(22.2,287.53) scale(1.0,1)" font-size="7.4" text-anchor="end" fill="#383838" stroke="#383838" stroke-width="0.06">1</text>
<text transform="translate(22.2,264.86) scale(1.0,1)" font-size="7.4" text-anchor="end" fill="#383838" stroke="#383838" stroke-width="0.06">2</text>
<text transform="translate(22.2,242.2) scale(1.0,1)" font-size="7.4" text-anchor="end" fill="#383838" stroke="#383838" stroke-width="0.06">3</text>
<text transform="translate(22.2,219.53) scale(1.0,1)" font-size="7.4" text-anchor="end" fill="#383838" stroke="#383838" stroke-width="0.06">4</text>
<text transform="translate(22.2,196.86) scale(1.0,1)" font-size="7.4" text-anchor="end" fill="#383838" stroke="#383838" stroke-width="0.06">5</text>
<text transform="translate(136.6,348.8) scale(1.15,1)" font-size="7.3" text-anchor="middle" fill="#383838" stroke="#383838" stroke-width="0.06">X axis</text>
<text transform="translate(12.4,261.9) rotate(-90) scale(1,1.25)" font-size="7.6" text-anchor="middle" fill="#383838" stroke="#383838" stroke-width="0.06">Y axis</text>
<rect x="38.5" y="204.3" width="65.20" height="18.90" fill="#fff" stroke="#a8a8a8" stroke-width="0.9"/>
<path d="M40.10,209.70 L60.60,209.70" fill="none" stroke="#474747" stroke-width="1.1" stroke-dasharray="5 3"/>
<path d="M40.10,218.20 L60.60,218.20" fill="none" stroke="#ff4646" stroke-width="1.3"/>
<text transform="translate(61.9,212.5) scale(1.12,1)" font-size="7.4" text-anchor="start" fill="#383838" stroke="#383838" stroke-width="0.06">desired path</text>
<text transform="translate(61.9,220.8) scale(1.12,1)" font-size="7.4" text-anchor="start" fill="#383838" stroke="#383838" stroke-width="0.06">real path</text>
<text transform="translate(144.9,369) scale(1,1)" font-size="10.8" text-anchor="middle" font-weight="bold" fill="#222" stroke="#222" stroke-width="0">(c)</text>
<line x1="432.55" y1="194.6" x2="432.55" y2="324.4" stroke="#f0f0f0" stroke-width="0.8"/>
<line x1="326.7" y1="302.77" x2="538.4" y2="302.77" stroke="#f0f0f0" stroke-width="0.8"/>
<line x1="326.7" y1="281.13" x2="538.4" y2="281.13" stroke="#f0f0f0" stroke-width="0.8"/>
<line x1="326.7" y1="259.50" x2="538.4" y2="259.50" stroke="#f0f0f0" stroke-width="0.8"/>
<line x1="326.7" y1="237.87" x2="538.4" y2="237.87" stroke="#f0f0f0" stroke-width="0.8"/>
<line x1="326.7" y1="216.23" x2="538.4" y2="216.23" stroke="#f0f0f0" stroke-width="0.8"/>
<path d="M517.23,302.77 L517.23,216.23 L347.87,216.23 L347.87,302.77 L432.55,302.77" fill="none" stroke="#474747" stroke-width="1.1" stroke-dasharray="5 3"/>
<path d="M432.55,302.77 L517.23,302.77 L517.12,302.94 L517.66,302.91 L518.19,302.88 L518.71,302.84 L519.22,302.79 L519.73,302.74 L520.23,302.69 L520.72,302.62 L521.21,302.56 L521.68,302.48 L522.15,302.40 L522.61,302.32 L523.07,302.23 L523.51,302.14 L523.95,302.04 L524.38,301.94 L524.81,301.83 L525.22,301.72 L525.63,301.60 L526.04,301.48 L526.43,301.36 L526.82,301.23 L527.20,301.10 L527.58,300.96 L527.94,300.82 L528.30,300.67 L528.66,300.52 L529.00,300.37 L529.34,300.21 L529.67,300.05 L530.00,299.89 L530.32,299.73 L530.63,299.56 L530.94,299.38 L531.23,299.21 L531.53,299.03 L531.81,298.85 L532.09,298.66 L532.36,298.48 L532.63,298.29 L532.89,298.10 L533.14,297.90 L533.39,297.71 L533.63,297.51 L533.86,297.31 L534.09,297.10 L534.31,296.90 L534.52,296.69 L534.73,296.49 L534.93,296.28 L535.13,296.07 L535.32,295.85 L535.51,295.64 L535.68,295.42 L535.86,295.20 L536.02,294.99 L536.18,294.77 L536.34,294.54 L536.49,294.32 L536.63,294.10 L536.77,293.87 L536.90,293.65 L537.03,293.42 L537.15,293.19 L537.27,292.96 L537.38,292.73 L537.48,292.50 L537.58,292.26 L537.68,292.03 L537.76,291.79 L537.85,291.56 L537.93,291.32 L538.00,291.08 L538.07,290.84 L538.13,290.60 L538.19,290.36 L538.24,290.12 L538.29,289.88 L538.33,289.64 L538.37,289.39 L538.41,289.15 L538.43,288.91 L538.46,288.66 L538.48,288.42 L538.49,288.17 L538.50,287.93 L538.51,287.68 L538.51,287.43 L538.51,287.19 L538.50,286.94 L538.49,286.69 L538.47,286.44 L538.45,286.20 L538.43,285.95 L538.40,285.70 L538.37,285.45 L538.33,285.20 L538.29,284.96 L538.24,284.71 L538.19,284.46 L538.14,284.21 L538.08,283.96 L538.02,283.72 L537.96,283.47 L537.89,283.22 L537.82,282.97 L537.74,282.73 L537.66,282.48 L537.58,282.24 L537.49,281.99 L537.40,281.75 L537.31,281.50 L537.21,281.26 L537.11,281.01 L537.01,280.77 L536.90,280.53 L536.79,280.29 L536.68,280.05 L536.56,279.81 L536.44,279.57 L536.32,279.33 L536.19,279.09 L536.06,278.85 L535.93,278.62 L535.80,278.38 L535.66,278.15 L535.52,277.91 L535.38,277.68 L535.24,277.45 L535.09,277.22 L534.94,276.98 L534.79,276.75 L534.63,276.52 L534.48,276.29 L534.32,276.06 L534.16,275.84 L533.99,275.61 L533.83,275.38 L533.66,275.15 L533.49,274.93 L533.32,274.70 L533.15,274.47 L532.98,274.25 L532.80,274.02 L532.63,273.80 L532.45,273.58 L532.27,273.35 L532.09,273.13 L531.90,272.91 L531.72,272.69 L531.54,272.46 L531.35,272.24 L531.16,272.02 L530.97,271.80 L530.79,271.58 L530.60,271.36 L530.41,271.14 L530.22,270.92 L530.02,270.70 L529.83,270.48 L529.64,270.26 L529.44,270.04 L529.25,269.82 L529.06,269.60 L528.86,269.38 L528.67,269.17 L528.47,268.95 L528.28,268.73 L528.08,268.51 L527.89,268.29 L527.69,268.08 L527.50,267.86 L527.31,267.64 L527.11,267.42 L526.92,267.20 L526.73,266.99 L526.53,266.77 L526.34,266.55 L526.15,266.33 L525.96,266.11 L525.77,265.89 L525.58,265.68 L525.39,265.46 L525.20,265.24 L525.02,265.02 L524.83,264.80 L524.65,264.58 L524.46,264.36 L524.28,264.14 L524.10,263.92 L523.92,263.70 L523.75,263.48 L523.57,263.26 L523.39,263.04 L523.22,262.82 L523.05,262.60 L522.88,262.38 L522.71,262.16 L522.55,261.93 L522.38,261.71 L522.22,261.49 L522.06,261.26 L521.90,261.04 L521.75,260.82 L521.59,260.59 L521.44,260.36 L521.30,260.14 L521.15,259.91 L521.01,259.69 L520.86,259.46 L520.73,259.23 L520.59,259.00 L520.46,258.77 L520.33,258.54 L520.20,258.31 L520.08,258.08 L519.95,257.85 L519.84,257.62 L519.72,257.39 L519.61,257.16 L519.50,256.92 L519.39,256.69 L519.29,256.46 L519.18,256.22 L519.08,255.99 L518.99,255.75 L518.89,255.51 L518.80,255.28 L518.71,255.04 L518.63,254.80 L518.54,254.56 L518.46,254.33 L518.38,254.09 L518.31,253.85 L518.23,253.61 L518.16,253.37 L518.09,253.13 L518.02,252.89 L517.96,252.65 L517.90,252.41 L517.84,252.17 L517.78,251.92 L517.72,251.68 L517.67,251.44 L517.62,251.20 L517.57,250.96 L517.52,250.71 L517.48,250.47 L517.43,250.23 L517.39,249.98 L517.35,249.74 L517.32,249.50 L517.28,249.25 L517.25,249.01 L517.22,248.77 L517.19,248.52 L517.16,248.28 L517.13,248.03 L517.11,247.79 L517.09,247.54 L517.07,247.30 L517.05,247.06 L517.03,246.81 L517.02,246.57 L517.00,246.32 L516.99,246.08 L516.98,245.83 L516.97,245.59 L516.96,245.34 L516.95,245.10 L516.95,244.86 L516.95,244.61 L516.94,244.37 L516.94,244.12 L516.94,243.88 L516.95,243.64 L516.95,243.39 L516.95,243.15 L516.96,242.91 L516.97,242.66 L516.98,242.42 L516.99,242.18 L517.00,241.94 L517.01,241.69 L517.02,241.45 L517.03,241.21 L517.05,240.97 L517.07,240.73 L517.08,240.49 L517.10,240.25 L517.12,240.01 L517.14,239.77 L517.16,239.53 L517.18,239.29 L517.20,239.05 L517.23,238.81 L517.25,238.57 L517.27,238.33 L517.30,238.10 L517.33,237.86 L517.23,216.23 L517.57,216.29 L517.51,216.01 L517.45,215.74 L517.37,215.48 L517.28,215.21 L517.18,214.96 L517.07,214.70 L516.95,214.45 L516.82,214.20 L516.67,213.96 L516.52,213.72 L516.36,213.48 L516.19,213.25 L516.00,213.02 L515.81,212.80 L515.61,212.58 L515.40,212.36 L515.18,212.15 L514.95,211.94 L514.72,211.73 L514.47,211.53 L514.22,211.33 L513.96,211.14 L513.69,210.95 L513.41,210.76 L513.13,210.58 L512.84,210.40 L512.54,210.22 L512.23,210.05 L511.92,209.88 L511.60,209.71 L511.28,209.55 L510.95,209.39 L510.61,209.23 L510.26,209.08 L509.91,208.93 L509.56,208.78 L509.20,208.64 L508.83,208.50 L508.46,208.37 L508.09,208.23 L507.71,208.10 L507.33,207.98 L506.94,207.86 L506.54,207.74 L506.15,207.62 L505.75,207.51 L505.34,207.40 L504.94,207.29 L504.53,207.19 L504.11,207.09 L503.70,206.99 L503.28,206.90 L502.86,206.80 L502.43,206.72 L502.00,206.63 L501.57,206.55 L501.14,206.47 L500.70,206.39 L500.26,206.32 L499.82,206.25 L499.38,206.18 L498.93,206.12 L498.48,206.05 L498.03,206.00 L497.58,205.94 L497.13,205.89 L496.67,205.84 L496.21,205.79 L495.75,205.74 L495.29,205.70 L494.82,205.66 L494.36,205.62 L493.89,205.59 L493.42,205.55 L492.95,205.52 L492.48,205.50 L492.01,205.47 L491.53,205.45 L491.06,205.43 L490.58,205.41 L490.10,205.40 L489.62,205.39 L489.15,205.38 L488.66,205.37 L488.18,205.36 L487.70,205.36 L487.22,205.36 L486.74,205.36 L486.25,205.37 L485.77,205.37 L485.28,205.38 L484.80,205.39 L484.31,205.40 L483.83,205.42 L483.34,205.43 L482.86,205.45 L482.37,205.47 L481.88,205.50 L481.40,205.52 L480.91,205.55 L480.43,205.58 L479.94,205.61 L479.46,205.64 L478.98,205.68 L478.49,205.71 L478.01,205.75 L477.53,205.79 L477.05,205.84 L476.57,205.88 L476.09,205.93 L475.61,205.97 L475.13,206.02 L474.66,206.08 L474.18,206.13 L473.71,206.18 L473.24,206.24 L472.76,206.30 L472.29,206.36 L471.83,206.42 L471.36,206.48 L470.89,206.54 L470.43,206.61 L469.97,206.68 L469.51,206.75 L469.05,206.82 L468.59,206.89 L468.13,206.96 L467.68,207.03 L467.22,207.11 L466.77,207.18 L466.32,207.26 L465.87,207.34 L465.42,207.42 L464.97,207.50 L464.52,207.58 L464.07,207.67 L463.63,207.75 L463.18,207.84 L462.74,207.92 L462.30,208.01 L461.86,208.10 L461.42,208.19 L460.98,208.28 L460.54,208.37 L460.10,208.46 L459.66,208.55 L459.23,208.64 L458.79,208.74 L458.36,208.83 L457.92,208.92 L457.49,209.02 L457.06,209.11 L456.62,209.21 L456.19,209.31 L455.76,209.40 L455.33,209.50 L454.90,209.60 L454.47,209.70 L454.04,209.79 L453.61,209.89 L453.18,209.99 L452.75,210.09 L452.32,210.19 L451.90,210.29 L451.47,210.39 L451.04,210.49 L450.61,210.59 L450.19,210.69 L449.76,210.79 L449.33,210.89 L448.91,210.99 L448.48,211.08 L448.05,211.18 L447.63,211.28 L447.20,211.38 L446.77,211.48 L446.35,211.58 L445.92,211.68 L445.49,211.77 L445.07,211.87 L444.64,211.97 L444.21,212.06 L443.78,212.16 L443.35,212.25 L442.92,212.35 L442.50,212.44 L442.07,212.54 L441.64,212.63 L441.21,212.72 L440.78,212.81 L440.35,212.90 L439.91,212.99 L439.48,213.08 L439.05,213.17 L438.62,213.26 L438.18,213.35 L437.75,213.43 L437.31,213.52 L436.88,213.60 L436.44,213.68 L436.00,213.76 L435.56,213.85 L435.12,213.92 L434.68,214.00 L434.24,214.08 L433.80,214.16 L433.36,214.23 L432.91,214.30 L432.47,214.38 L432.02,214.45 L431.58,214.52 L431.13,214.58 L430.68,214.65 L430.23,214.72 L429.78,214.78 L429.33,214.84 L428.87,214.90 L428.42,214.96 L427.96,215.02 L427.51,215.07 L427.05,215.13 L426.59,215.18 L426.13,215.24 L425.67,215.29 L425.21,215.34 L424.75,215.38 L424.28,215.43 L423.82,215.48 L423.36,215.52 L422.89,215.56 L422.42,215.60 L421.96,215.64 L421.49,215.68 L421.02,215.72 L420.55,215.76 L420.08,215.79 L419.61,215.83 L419.14,215.86 L418.67,215.89 L418.20,215.92 L417.72,215.95 L417.25,215.98 L416.78,216.01 L416.30,216.03 L415.83,216.06 L415.35,216.08 L414.88,216.11 L414.40,216.13 L413.93,216.15 L413.45,216.17 L412.97,216.19 L412.50,216.21 L412.02,216.22 L411.54,216.24 L411.06,216.25 L410.59,216.27 L410.11,216.28 L409.63,216.29 L409.15,216.31 L408.67,216.32 L408.19,216.33 L407.72,216.34 L407.24,216.34 L406.76,216.35 L406.28,216.36 L405.80,216.36 L405.32,216.37 L404.85,216.37 L404.37,216.37 L403.89,216.38 L403.41,216.38 L402.93,216.38 L402.46,216.38 L401.98,216.38 L401.50,216.38 L401.03,216.38 L400.55,216.37 L400.07,216.37 L399.60,216.37 L399.12,216.36 L398.65,216.36 L398.17,216.35 L397.70,216.35 L397.23,216.34 L396.75,216.33 L396.28,216.33 L395.81,216.32 L395.34,216.31 L394.87,216.30 L394.40,216.29 L393.93,216.28 L393.46,216.27 L392.99,216.26 L392.52,216.25 L392.06,216.24 L391.59,216.22 L391.12,216.21 L390.66,216.20 L390.20,216.18 L347.87,216.23 L347.98,216.06 L347.44,216.09 L346.91,216.12 L346.39,216.16 L345.88,216.21 L345.37,216.26 L344.87,216.31 L344.38,216.38 L343.89,216.44 L343.42,216.52 L342.95,216.60 L342.49,216.68 L342.03,216.77 L341.59,216.86 L341.15,216.96 L340.72,217.06 L340.29,217.17 L339.88,217.28 L339.47,217.40 L339.06,217.52 L338.67,217.64 L338.28,217.77 L337.90,217.90 L337.52,218.04 L337.16,218.18 L336.80,218.33 L336.44,218.48 L336.10,218.63 L335.76,218.79 L335.43,218.95 L335.10,219.11 L334.78,219.27 L334.47,219.44 L334.16,219.62 L333.87,219.79 L333.57,219.97 L333.29,220.15 L333.01,220.34 L332.74,220.52 L332.47,220.71 L332.21,220.90 L331.96,221.10 L331.71,221.29 L331.47,221.49 L331.24,221.69 L331.01,221.90 L330.79,222.10 L330.58,222.31 L330.37,222.51 L330.17,222.72 L329.97,222.93 L329.78,223.15 L329.59,223.36 L329.42,223.58 L329.24,223.80 L329.08,224.01 L328.92,224.23 L328.76,224.46 L328.61,224.68 L328.47,224.90 L328.33,225.13 L328.20,225.35 L328.07,225.58 L327.95,225.81 L327.83,226.04 L327.72,226.27 L327.62,226.50 L327.52,226.74 L327.42,226.97 L327.34,227.21 L327.25,227.44 L327.17,227.68 L327.10,227.92 L327.03,228.16 L326.97,228.40 L326.91,228.64 L326.86,228.88 L326.81,229.12 L326.77,229.36 L326.73,229.61 L326.69,229.85 L326.67,230.09 L326.64,230.34 L326.62,230.58 L326.61,230.83 L326.60,231.07 L326.59,231.32 L326.59,231.57 L326.59,231.81 L326.60,232.06 L326.61,232.31 L326.63,232.56 L326.65,232.80 L326.67,233.05 L326.70,233.30 L326.73,233.55 L326.77,233.80 L326.81,234.04 L326.86,234.29 L326.91,234.54 L326.96,234.79 L327.02,235.04 L327.08,235.28 L327.14,235.53 L327.21,235.78 L327.28,236.03 L327.36,236.27 L327.44,236.52 L327.52,236.76 L327.61,237.01 L327.70,237.25 L327.79,237.50 L327.89,237.74 L327.99,237.99 L328.09,238.23 L328.20,238.47 L328.31,238.71 L328.42,238.95 L328.54,239.19 L328.66,239.43 L328.78,239.67 L328.91,239.91 L329.04,240.15 L329.17,240.38 L329.30,240.62 L329.44,240.85 L329.58,241.09 L329.72,241.32 L329.86,241.55 L330.01,241.78 L330.16,242.02 L330.31,242.25 L330.47,242.48 L330.62,242.71 L330.78,242.94 L330.94,243.16 L331.11,243.39 L331.27,243.62 L331.44,243.85 L331.61,244.07 L331.78,244.30 L331.95,244.53 L332.12,244.75 L332.30,244.98 L332.47,245.20 L332.65,245.42 L332.83,245.65 L333.01,245.87 L333.20,246.09 L333.38,246.31 L333.56,246.54 L333.75,246.76 L333.94,246.98 L334.13,247.20 L334.31,247.42 L334.50,247.64 L334.69,247.86 L334.88,248.08 L335.08,248.30 L335.27,248.52 L335.46,248.74 L335.66,248.96 L335.85,249.18 L336.04,249.40 L336.24,249.62 L336.43,249.83 L336.63,250.05 L336.82,250.27 L337.02,250.49 L337.21,250.71 L337.41,250.92 L337.60,251.14 L337.79,251.36 L337.99,251.58 L338.18,251.80 L338.37,252.01 L338.57,252.23 L338.76,252.45 L338.95,252.67 L339.14,252.89 L339.33,253.11 L339.52,253.32 L339.71,253.54 L339.90,253.76 L340.08,253.98 L340.27,254.20 L340.45,254.42 L340.64,254.64 L340.82,254.86 L341.00,255.08 L341.18,255.30 L341.35,255.52 L341.53,255.74 L341.71,255.96 L341.88,256.18 L342.05,256.40 L342.22,256.62 L342.39,256.84 L342.55,257.07 L342.72,257.29 L342.88,257.51 L343.04,257.74 L343.20,257.96 L343.35,258.18 L343.51,258.41 L343.66,258.64 L343.80,258.86 L343.95,259.09 L344.09,259.31 L344.24,259.54 L344.37,259.77 L344.51,260.00 L344.64,260.23 L344.77,260.46 L344.90,260.69 L345.02,260.92 L345.15,261.15 L345.26,261.38 L345.38,261.61 L345.49,261.84 L345.60,262.08 L345.71,262.31 L345.81,262.54 L345.92,262.78 L346.02,263.01 L346.11,263.25 L346.21,263.49 L346.30,263.72 L346.39,263.96 L346.47,264.20 L346.56,264.44 L346.64,264.67 L346.72,264.91 L346.79,265.15 L346.87,265.39 L346.94,265.63 L347.01,265.87 L347.08,266.11 L347.14,266.35 L347.20,266.59 L347.26,266.83 L347.32,267.08 L347.38,267.32 L347.43,267.56 L347.48,267.80 L347.53,268.04 L347.58,268.29 L347.62,268.53 L347.67,268.77 L347.71,269.02 L347.75,269.26 L347.78,269.50 L347.82,269.75 L347.85,269.99 L347.88,270.23 L347.91,270.48 L347.94,270.72 L347.97,270.97 L347.99,271.21 L348.01,271.46 L348.03,271.70 L348.05,271.94 L348.07,272.19 L348.08,272.43 L348.10,272.68 L348.11,272.92 L348.12,273.17 L348.13,273.41 L348.14,273.66 L348.15,273.90 L348.15,274.14 L348.15,274.39 L348.16,274.63 L348.16,274.88 L348.16,275.12 L348.15,275.36 L348.15,275.61 L348.15,275.85 L348.14,276.09 L348.13,276.34 L348.12,276.58 L348.11,276.82 L348.10,277.06 L348.09,277.31 L348.08,277.55 L348.07,277.79 L348.05,278.03 L348.03,278.27 L348.02,278.51 L348.00,278.75 L347.98,278.99 L347.96,279.23 L347.94,279.47 L347.92,279.71 L347.90,279.95 L347.87,280.19 L347.85,280.43 L347.83,280.67 L347.80,280.90 L347.77,281.14 L347.87,302.77 L347.56,302.71 L347.61,302.99 L347.67,303.26 L347.74,303.52 L347.82,303.79 L347.91,304.04 L348.02,304.30 L348.13,304.55 L348.25,304.80 L348.38,305.04 L348.51,305.28 L348.66,305.52 L348.82,305.75 L348.99,305.98 L349.16,306.20 L349.34,306.42 L349.53,306.64 L349.73,306.85 L349.94,307.06 L350.16,307.27 L350.38,307.47 L350.61,307.67 L350.85,307.86 L351.09,308.05 L351.34,308.24 L351.60,308.42 L351.87,308.60 L352.14,308.78 L352.42,308.95 L352.70,309.12 L352.99,309.29 L353.29,309.45 L353.59,309.61 L353.90,309.77 L354.21,309.92 L354.53,310.07 L354.85,310.22 L355.18,310.36 L355.51,310.50 L355.85,310.63 L356.19,310.77 L356.53,310.90 L356.88,311.02 L357.24,311.14 L357.59,311.26 L357.95,311.38 L358.32,311.49 L358.69,311.60 L359.06,311.71 L359.43,311.81 L359.81,311.91 L360.18,312.01 L360.57,312.10 L360.95,312.20 L361.34,312.28 L361.73,312.37 L362.12,312.45 L362.51,312.53 L362.91,312.61 L363.31,312.68 L363.71,312.75 L364.11,312.82 L364.52,312.88 L364.93,312.95 L365.34,313.00 L365.75,313.06 L366.16,313.11 L366.58,313.16 L367.00,313.21 L367.42,313.26 L367.84,313.30 L368.26,313.34 L368.68,313.38 L369.11,313.41 L369.53,313.45 L369.96,313.48 L370.39,313.50 L370.82,313.53 L371.25,313.55 L371.69,313.57 L372.12,313.59 L372.55,313.60 L372.99,313.61 L373.43,313.62 L373.86,313.63 L374.30,313.64 L374.74,313.64 L375.18,313.64 L375.62,313.64 L376.06,313.63 L376.50,313.63 L376.94,313.62 L377.38,313.61 L377.82,313.60 L378.27,313.58 L378.71,313.57 L379.15,313.55 L379.59,313.53 L380.03,313.50 L380.48,313.48 L380.92,313.45 L381.36,313.42 L381.80,313.39 L382.24,313.36 L382.68,313.32 L383.12,313.29 L383.56,313.25 L384.00,313.21 L384.44,313.16 L384.87,313.12 L385.31,313.07 L385.74,313.03 L386.18,312.98 L386.61,312.92 L387.04,312.87 L387.47,312.82 L387.91,312.76 L388.33,312.70 L388.76,312.64 L389.19,312.58 L389.61,312.52 L390.04,312.46 L390.46,312.39 L390.88,312.32 L391.30,312.25 L391.72,312.18 L392.13,312.11 L392.55,312.04 L392.96,311.97 L393.38,311.89 L393.79,311.82 L394.20,311.74 L394.61,311.66 L395.02,311.58 L395.43,311.50 L395.84,311.42 L396.24,311.33 L396.65,311.25 L397.05,311.16 L397.45,311.08 L397.86,310.99 L398.26,310.90 L398.66,310.81 L399.06,310.72 L399.46,310.63 L399.86,310.54 L400.26,310.45 L400.65,310.36 L401.05,310.26 L401.44,310.17 L401.84,310.08 L402.23,309.98 L402.63,309.89 L403.02,309.79 L403.42,309.69 L403.81,309.60 L404.20,309.50 L404.59,309.40 L404.98,309.30 L405.37,309.21 L405.76,309.11 L406.15,309.01 L406.54,308.91 L406.93,308.81 L407.32,308.71 L407.71,308.61 L408.10,308.51 L408.49,308.41 L408.88,308.31 L409.27,308.21 L409.66,308.11 L410.04,308.01 L410.43,307.92 L410.82,307.82 L411.21,307.72 L411.60,307.62 L411.99,307.52 L412.37,307.42 L412.76,307.32 L413.15,307.23 L413.54,307.13 L413.93,307.03 L414.32,306.94 L414.71,306.84 L415.10,306.75 L415.49,306.65 L415.88,306.56 L416.27,306.46 L416.66,306.37 L417.05,306.28 L417.44,306.19 L417.84,306.10 L418.23,306.01 L418.62,305.92 L419.02,305.83 L419.41,305.74 L419.80,305.65 L420.20,305.57 L420.60,305.48 L420.99,305.40 L421.39,305.32 L421.79,305.24 L422.19,305.15 L422.59,305.08 L422.99,305.00 L423.39,304.92 L423.79,304.84 L424.19,304.77 L424.60,304.70 L425.00,304.62 L425.41,304.55 L425.81,304.48 L426.22,304.42 L426.63,304.35 L427.04,304.28 L427.45,304.22 L427.86,304.16 L428.27,304.10 L428.69,304.04" fill="none" stroke="#ff4a4a" stroke-width="1.6"/>
<rect x="326.7" y="194.6" width="211.70" height="129.80" fill="none" stroke="#a8a8a8" stroke-width="1.1"/>
<path d="M326.70,324.4 v-2.0 M326.70,194.6 v2.0" stroke="#a8a8a8" stroke-width="0.8"/>
<path d="M432.55,324.4 v-2.0 M432.55,194.6 v2.0" stroke="#a8a8a8" stroke-width="0.8"/>
<path d="M538.40,324.4 v-2.0 M538.40,194.6 v2.0" stroke="#a8a8a8" stroke-width="0.8"/>
<path d="M326.7,324.40 h2.0 M538.4,324.40 h-2.0" stroke="#a8a8a8" stroke-width="0.8"/>
<path d="M326.7,302.77 h2.0 M538.4,302.77 h-2.0" stroke="#a8a8a8" stroke-width="0.8"/>
<path d="M326.7,281.13 h2.0 M538.4,281.13 h-2.0" stroke="#a8a8a8" stroke-width="0.8"/>
<path d="M326.7,259.50 h2.0 M538.4,259.50 h-2.0" stroke="#a8a8a8" stroke-width="0.8"/>
<path d="M326.7,237.87 h2.0 M538.4,237.87 h-2.0" stroke="#a8a8a8" stroke-width="0.8"/>
<path d="M326.7,216.23 h2.0 M538.4,216.23 h-2.0" stroke="#a8a8a8" stroke-width="0.8"/>
<path d="M326.7,194.60 h2.0 M538.4,194.60 h-2.0" stroke="#a8a8a8" stroke-width="0.8"/>
<text transform="translate(326.7,335.6) scale(1.05,1)" font-size="8.2" text-anchor="middle" fill="#383838" stroke="#383838" stroke-width="0.06">-5</text>
<text transform="translate(432.55,335.6) scale(1.05,1)" font-size="8.2" text-anchor="middle" fill="#383838" stroke="#383838" stroke-width="0.06">0</text>
<text transform="translate(538.4,335.6) scale(1.05,1)" font-size="8.2" text-anchor="middle" fill="#383838" stroke="#383838" stroke-width="0.06">5</text>
<text transform="translate(323.7,327.53) scale(1.05,1)" font-size="8.2" text-anchor="end" fill="#383838" stroke="#383838" stroke-width="0.06">-2</text>
<text transform="translate(323.7,305.9) scale(1.05,1)" font-size="8.2" text-anchor="end" fill="#383838" stroke="#383838" stroke-width="0.06">0</text>
<text transform="translate(323.7,284.26) scale(1.05,1)" font-size="8.2" text-anchor="end" fill="#383838" stroke="#383838" stroke-width="0.06">2</text>
<text transform="translate(323.7,262.63) scale(1.05,1)" font-size="8.2" text-anchor="end" fill="#383838" stroke="#383838" stroke-width="0.06">4</text>
<text transform="translate(323.7,241) scale(1.05,1)" font-size="8.2" text-anchor="end" fill="#383838" stroke="#383838" stroke-width="0.06">6</text>
<text transform="translate(323.7,219.36) scale(1.05,1)" font-size="8.2" text-anchor="end" fill="#383838" stroke="#383838" stroke-width="0.06">8</text>
<text transform="translate(323.7,197.73) scale(1.05,1)" font-size="8.2" text-anchor="end" fill="#383838" stroke="#383838" stroke-width="0.06">10</text>
<text transform="translate(432.1,347.1) scale(1.05,1)" font-size="9.5" text-anchor="middle" fill="#383838" stroke="#383838" stroke-width="0.06">X axis</text>
<text transform="translate(310.2,259.8) rotate(-90) scale(1,1.06)" font-size="9.6" text-anchor="middle" fill="#383838" stroke="#383838" stroke-width="0.06">Y axis</text>
<rect x="412.3" y="234.6" width="69.40" height="21.70" fill="#fff" stroke="#a8a8a8" stroke-width="0.9"/>
<path d="M413.90,240.90 L434.40,240.90" fill="none" stroke="#474747" stroke-width="1.1" stroke-dasharray="5 3"/>
<path d="M413.90,250.40 L434.40,250.40" fill="none" stroke="#ff4646" stroke-width="1.3"/>
<text transform="translate(435.6,243.5) scale(1.12,1)" font-size="8.1" text-anchor="start" fill="#383838" stroke="#383838" stroke-width="0.06">desired path</text>
<text transform="translate(435.6,253) scale(1.12,1)" font-size="8.1" text-anchor="start" fill="#383838" stroke="#383838" stroke-width="0.06">real path</text>
<text transform="translate(439.3,368.6) scale(1,1)" font-size="10.8" text-anchor="middle" font-weight="bold" fill="#222" stroke="#222" stroke-width="0">(d)</text>
</svg>
</body></html>
